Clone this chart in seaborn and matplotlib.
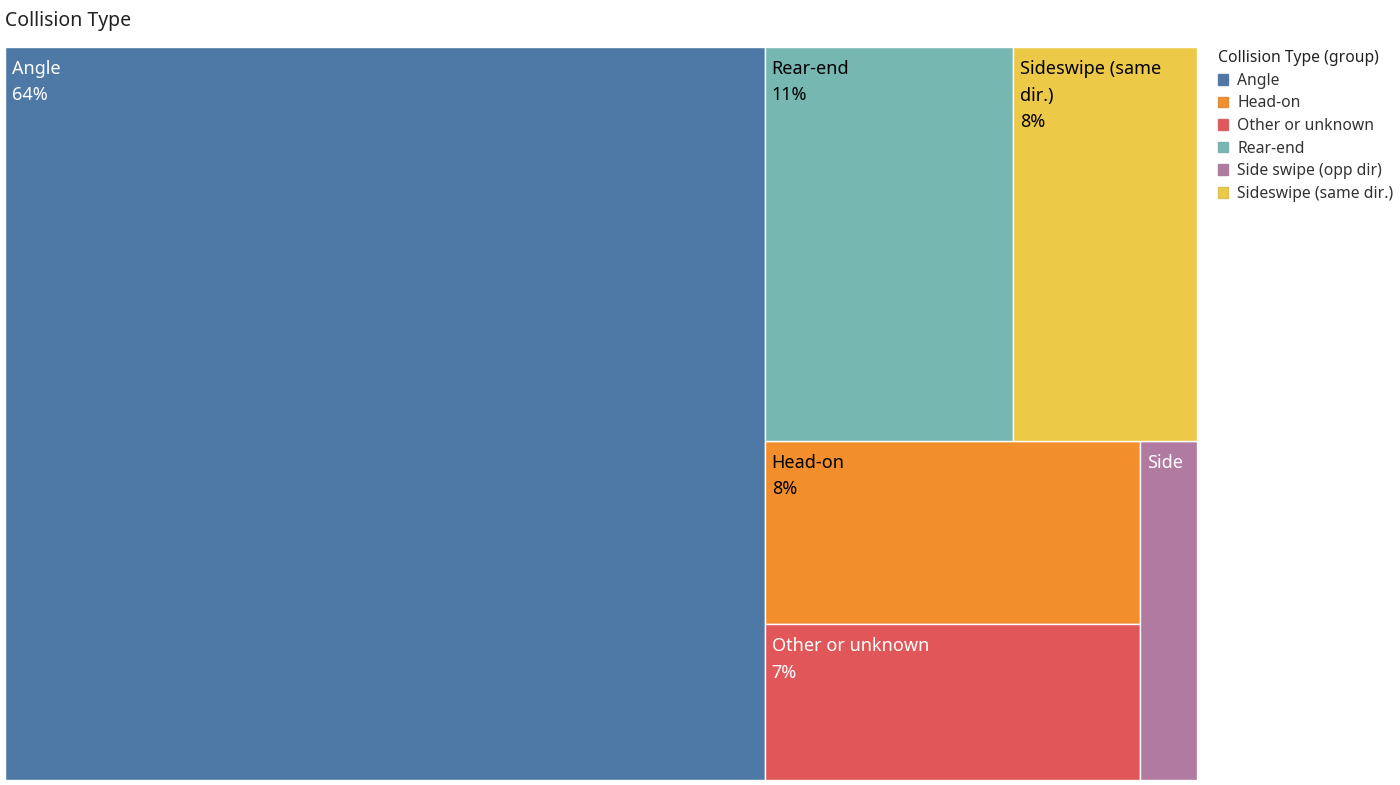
import matplotlib
matplotlib.use("Agg")
import matplotlib.pyplot as plt
from matplotlib.patches import Patch
import seaborn as sns

# share of collisions (%) per collision type
categories = ["Angle", "Head-on", "Other or unknown", "Rear-end",
              "Side swipe (opp dir)", "Sideswipe (same dir.)"]
shares = [63.8, 7.9, 6.7, 11.2, 2.2, 8.3]
colors = ["#4E79A7", "#F28E2B", "#E15759", "#76B7B2", "#B07AA1", "#EDC948"]
label_colors = ["white", "black", "white", "black", "white", "black"]

# how the tiles are nested (h = side by side, v = stacked)
layout = ("h", ["Angle",
                ("v", [("h", ["Rear-end", "Sideswipe (same dir.)"]),
                       ("h", [("v", ["Head-on", "Other or unknown"]),
                              "Side swipe (opp dir)"])])])

share_of = dict(zip(categories, shares))


def total(node):
    if isinstance(node, str):
        return share_of[node]
    return sum(total(k) for k in node[1])


def place(node, x, y, w, h, out):
    if isinstance(node, str):
        out[node] = (x, y, w, h)
        return
    d, kids = node
    t = total(node)
    for k in kids:
        f = total(k) / t
        if d == "h":
            place(k, x, y, w * f, h, out)
            x += w * f
        else:
            place(k, x, y, w, h * f, out)
            y += h * f


sns.set_theme(style="white")
plt.rcParams["font.family"] = ["Noto Sans", "DejaVu Sans"]

W, H = 1192, 733
fig = plt.figure(figsize=(14, 7.85), dpi=100)
ax = fig.add_axes([5 / 1400, 5 / 785, W / 1400, H / 785])
ax.set_xlim(0, W)
ax.set_ylim(H, 0)
ax.axis("off")

rects = {}
place(layout, 0, 0, W, H, rects)

FS = 13
renderer = fig.canvas.get_renderer()


def width_px(s):
    t = ax.text(0, 0, s, fontsize=FS)
    w = t.get_window_extent(renderer).width
    t.remove()
    return w


for cat, col, tc in zip(categories, colors, label_colors):
    x, y, w, h = rects[cat]
    ax.bar(x, h, width=w, bottom=y, align="edge", color=col,
           edgecolor="white", linewidth=1)
    # wrap the name into the tile width; stop when a word will not fit
    avail = w - 16
    lines, cur, cut = [], "", False
    for word in cat.split():
        trial = word if not cur else cur + " " + word
        if width_px(trial) <= avail:
            cur = trial
        else:
            if cur:
                lines.append(cur)
            if width_px(word) > avail:
                cut = True
                cur = ""
                break
            cur = word
    if cur:
        lines.append(cur)
    if not cut:
        lines.append(f"{round(share_of[cat])}%")
    for i, ln in enumerate(lines):
        ax.text(x + 7, y + 22 + i * 26.5, ln, fontsize=FS, color=tc,
                va="center", ha="left")

fig.text(5 / 1400, 1 - 21 / 785, "Collision Type", fontsize=14,
         va="center", ha="left", color="#222222")

handles = [Patch(facecolor=c, edgecolor=sns.desaturate(c, 0.8)) for c in colors]
leg = fig.legend(handles, categories, loc="upper left",
                 bbox_to_anchor=(1212 / 1400, 1 - 44 / 785), frameon=False,
                 title="Collision Type (group)", alignment="left",
                 handlelength=0.65, handleheight=0.65, handletextpad=0.55,
                 labelspacing=0.42, fontsize=11.3, title_fontsize=11.3,
                 borderaxespad=0)
for t in leg.get_texts():
    t.set_color("#333333")
leg.get_title().set_color("#222222")

fig.savefig("out.png", dpi=100)
